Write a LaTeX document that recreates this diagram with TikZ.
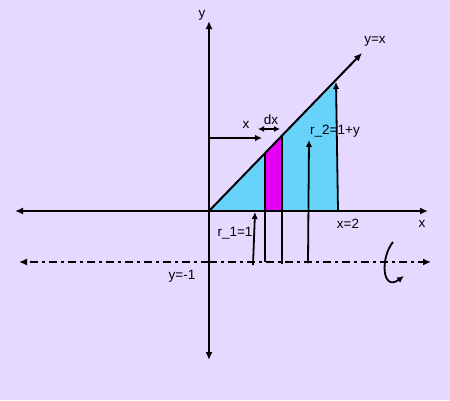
\documentclass[tikz,border=0pt]{standalone}
\usepackage{fontspec}
\setmainfont{Liberation Sans}
\usetikzlibrary{arrows.meta}
\definecolor{bglilac}{RGB}{229,217,255}
\definecolor{shellcyan}{RGB}{104,211,250}
\definecolor{stripmag}{RGB}{229,0,245}
\begin{document}
\begin{tikzpicture}[x=1pt,y=-1pt]
\tikzstyle{ax} = [line width=2pt, -{Latex[length=8pt,width=7pt]}]
\tikzstyle{thinarr} = [line width=1.8pt, -{Latex[length=7pt,width=6.5pt]}]
\tikzstyle{edge} = [line width=2pt]
\tikzstyle{lbl} = [font=\fontsize{13.5}{15}\selectfont, inner sep=0pt]

% Background
\fill[bglilac] (0,0) rectangle (450,400);
\useasboundingbox (0,0) rectangle (450,400);

\coordinate (O) at (209,211);
\coordinate (top) at (336,82);
\coordinate (base) at (338,211);

% region and strip
\fill[shellcyan] (O) -- (top) -- (base) -- cycle;
\fill[stripmag] (265,211) -- (265,153) -- (282,135.5) -- (282,211) -- cycle;

% axes
\draw[ax] (O) -- (209,21);
\draw[ax] (O) -- (209,360);
\draw[ax] (O) -- (428,211);
\draw[ax] (O) -- (15,211);
\draw[ax, dash pattern=on 8pt off 4pt on 3pt off 4pt] (209,262) -- (431,262);
\draw[ax, dash pattern=on 8pt off 4pt on 3pt off 4pt] (209,262) -- (19,262);
\draw[ax] (O) -- (362,53);

% strip edges and radii
\draw[edge] (265,153) -- (265,262);
\draw[edge] (282,135.5) -- (282,264);
\draw[thinarr] (253,265) -- (255,212);
\draw[thinarr] (308,263) -- (309,140);
\draw[thinarr] (base) -- (top);
\draw[thinarr] (209,138) -- (262,138);
\draw[thinarr, {Latex[length=6pt,width=6pt]}-{Latex[length=6pt,width=6pt]}] (258,129) -- (280,129);

% rotation
\draw[thinarr] (393,242) .. controls (380,258) and (382,292) .. (404,276);

\node at (202,15) [lbl] (ylab) {y};
\node at (422,224) [lbl] (xlab) {x};
\node at (375,41) [lbl] (yxlab) {y=x};
\node at (246,125) [lbl] (xdist) {x};
\node at (271,120) [lbl] (dxlab) {dx};
\node at (335,131) [lbl] (r2lab) {r\_2=1+y};
\node at (235,233) [lbl] (r1lab) {r\_1=1};
\node at (348,224) [lbl] (x2lab) {x=2};
\node at (182,276) [lbl] (ymlab) {y=-1};
\end{tikzpicture}
\end{document}
